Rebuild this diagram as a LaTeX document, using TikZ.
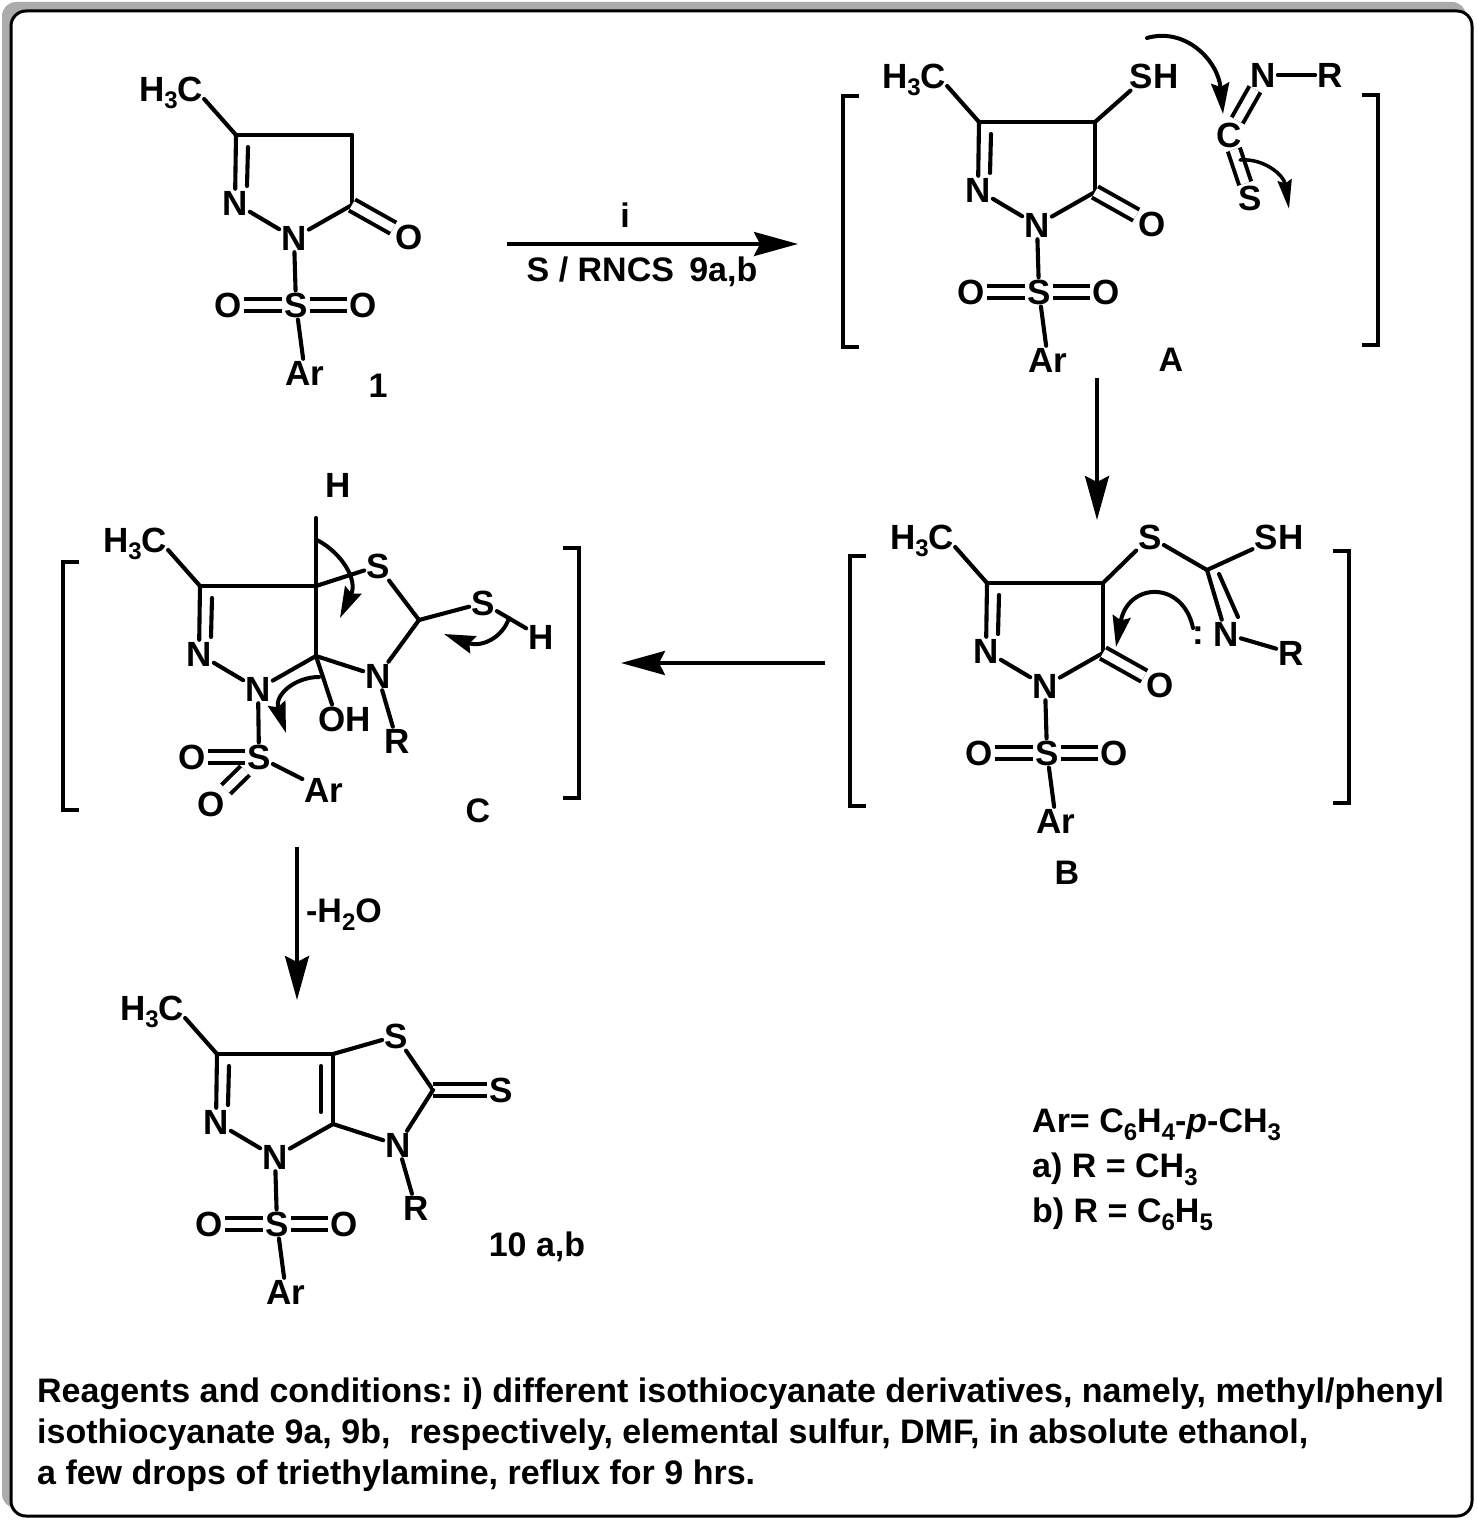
\documentclass[tikz,border=0pt]{standalone}
\usepackage{fontspec}
\setmainfont{Liberation Sans}
\usetikzlibrary{arrows.meta}
\newcommand\lowered[1]{\raisebox{-0.22em}[0pt][0pt]{\fontsize{24}{24}\selectfont #1}}
\tikzset{
  atom/.style={font=\fontsize{35}{35}\selectfont\bfseries,inner sep=2pt},
  caption text/.style={font=\fontsize{34}{34}\selectfont\bfseries,inner sep=0pt},
  bond/.style={line width=4.1pt,line cap=round},
  dbond/.style={line width=4pt,double,double distance=8.6pt},
  brk/.style={line width=4.4pt},
  react/.style={line width=3.6pt,-{Stealth[length=44pt,width=24pt,inset=6pt]}},
  curly/.style={line width=4pt,line cap=round,-{Stealth[length=31pt,width=18pt,inset=4pt]}},
  curlys/.style={line width=3.5pt,line cap=round,-{Stealth[length=29pt,width=14pt,inset=3pt]}}
}
\newcommand\pzcore{%
  \node[atom] (h) at (-65,-46) {H\lowered{3}C};
  \coordinate (c3) at (0,0);
  \coordinate (c4) at (116,0);
  \coordinate (c5) at (116,70);
  \node[atom] (n2) at (-1,68) {N};
  \node[atom] (n1) at (58,103) {N};
  \draw[bond] (c3) -- ([shift={(-1,10)}]h.east);
  \draw[bond] (c3) -- (n2);
  \draw[bond] ([shift={(12,12)}]c3) -- ([shift={(12,-17)}]n2.center);
  \draw[bond] (n2) -- (n1);
  \draw[bond] (n1) -- (c5);
  \draw[bond] (c3) -- (c4);
  \draw[bond] (c4) -- (c5);
}
\newcommand\pzoxo{%
  \node[atom] (o) at (173,102) {O};
  \draw[dbond] (c5) -- (o);
}
\newcommand\pzsulf{%
  \node[atom] (s) at (60,170) {S};
  \node[atom] (ol) at (-8,170) {O};
  \node[atom] (or) at (127,170) {O};
  \node[atom] (ar) at (69,238) {Ar};
  \draw[bond] (n1) -- (s);
  \draw[dbond] (s) -- (ol);
  \draw[dbond] (s) -- (or);
  \draw[bond] (s) -- (ar);
}
\begin{document}
\frenchspacing
\begin{tikzpicture}[x=1pt,y=-1pt]
\useasboundingbox (0,0) rectangle (1477,1520);
\fill[white] (0,0) rectangle (1477,1520);
\fill[black!33,rounded corners=14pt] (2,2) rectangle (1466,1508);
\draw[fill=white,line width=3pt,rounded corners=15pt] (11,11) rectangle (1472,1516);

% --- compound 1
\begin{scope}[shift={(236,135)},name prefix=p-]
  \pzcore\pzoxo\pzsulf
\end{scope}
\node[caption text] (lab1) at (378,386) {1};

% --- reaction arrow i
\coordinate (r1a) at (507,244);
\coordinate (r1b) at (798,244);
\draw[react] (r1a) -- (r1b);
\node[caption text] (ri) at (625,215) {i};
\node[caption text] (rs) at (642,272) {S / RNCS\hspace{0.45em}9a,b};

% --- intermediate A
\begin{scope}[shift={(979,122)},name prefix=a-]
  \pzcore\pzoxo\pzsulf
  \node[atom] (sh) at (175,-46) {SH};
  \draw[bond] (c4) -- ([shift={(3,0)}]sh.south west);
\end{scope}
\node[atom] (an) at (1263,75) {N};
\node[atom] (ar2) at (1330,75) {R};
\node[atom] (ac) at (1229,135) {C};
\node[atom] (as) at (1250,198) {S};
\draw[bond] (an) -- (ar2);
\draw[dbond] (an) -- (ac);
\draw[dbond] (ac) -- (as);
\node[caption text] (labA) at (1171,360) {A};
\coordinate (ca1) at (1147,38);
\coordinate (ca2) at (1223,114);
\draw[curly] (ca1) .. controls (1185,27) and (1218,60) .. (ca2);
\coordinate (ca3) at (1240,160);
\coordinate (ca4) at (1289,209);
\draw[curlys] (ca3) .. controls (1265,158) and (1284,176) .. (ca4);
\draw[brk] (859,96) -- (843,96) -- (843,347) -- (859,347);
\draw[brk] (1362,95) -- (1378,95) -- (1378,345) -- (1362,345);

% --- A to B
\coordinate (r2a) at (1097,378);
\coordinate (r2b) at (1097,520);
\draw[react] (r2a) -- (r2b);

% --- intermediate B
\begin{scope}[shift={(987,583)},name prefix=b-]
  \pzcore\pzoxo\pzsulf
\end{scope}
\node[atom] (bs) at (1150,537) {S};
\coordinate (bc) at (1207,570);
\node[atom] (bsh) at (1279,537) {SH};
\node[atom] (bn) at (1226,634) {N};
\node[atom] (br) at (1291,653) {R};
\draw[bond] (b-c4) -- (bs);
\draw[bond] (bs) -- (bc);
\draw[bond] (bc) -- (bsh);
\draw[bond] (bc) -- (bn);
\draw[bond] ([shift={(12,4)}]bc) -- ([shift={(12,-17)}]bn.center);
\draw[bond] (bn) -- (br);
\node[atom] (bcolon) at (1198,636) {:};
\coordinate (cb1) at (1193,628);
\coordinate (cb2) at (1116,647);
\draw[curly] (cb1) .. controls (1183,580) and (1128,582) .. (cb2);
\node[caption text] (labB) at (1067,873) {B};
\draw[brk] (866,556) -- (850,556) -- (850,806) -- (866,806);
\draw[brk] (1333,551) -- (1349,551) -- (1349,803) -- (1333,803);

% --- B to C
\coordinate (r3a) at (825,663);
\coordinate (r3b) at (621,663);
\draw[react] (r3a) -- (r3b);

% --- intermediate C
\begin{scope}[shift={(200,586)},name prefix=c-]
  \pzcore
  \node[atom] (s) at (59,171) {S};
  \node[atom] (ol) at (-8,171) {O};
  \node[atom] (od) at (11,218) {O};
  \node[atom] (ar) at (124,204) {Ar};
  \draw[bond] (n1) -- (s);
  \draw[dbond] (s) -- (ol);
  \draw[dbond] (s) -- (od);
  \draw[bond] (s) -- (ar);
\end{scope}
\coordinate (ctop) at (316,518);
\node[atom] (ch) at (338,485) {H};
\node[atom] (cs) at (378,566) {S};
\coordinate (cc) at (419,620);
\node[atom] (cs2) at (483,603) {S};
\node[atom] (ch2) at (541,637) {H};
\node[atom] (cn) at (378,676) {N};
\node[atom] (cr) at (397,741) {R};
\node[atom] (coh) at (345,719) {OH};
\draw[bond] (c-c4) -- (ctop);
\draw[bond] (c-c4) -- (cs);
\draw[bond] (cs) -- (cc);
\draw[bond] (cc) -- (cs2);
\draw[bond] (cs2) -- (ch2);
\draw[bond] (cc) -- (cn);
\draw[bond] (c-c5) -- (cn);
\draw[bond] (cn) -- (cr);
\draw[bond] (c-c5) -- ([xshift=-13pt]coh.north);
\coordinate (cc1) at (317,540);
\coordinate (cc2) at (340,618);
\draw[curly] (cc1) .. controls (342,553) and (358,580) .. (cc2);
\coordinate (cc3) at (509,618);
\coordinate (cc4) at (444,634);
\draw[curly] (cc3) .. controls (503,637) and (482,648) .. (cc4);
\coordinate (cc5) at (319,677);
\coordinate (cc6) at (286,733);
\draw[curly] (cc5) .. controls (295,677) and (274,695) .. (cc6);
\node[caption text] (labC) at (478,811) {C};
\draw[brk] (79,562) -- (63,562) -- (63,810) -- (79,810);
\draw[brk] (563,548) -- (579,548) -- (579,798) -- (563,798);

% --- C to 10
\coordinate (r4a) at (297,847);
\coordinate (r4b) at (297,1000);
\draw[react] (r4a) -- (r4b);
\node[caption text] (rw) at (344,911) {-H\lowered{2}O};

% --- product 10
\begin{scope}[shift={(217,1054)},name prefix=d-]
  \pzcore\pzsulf
\end{scope}
\node[atom] (ds) at (396,1036) {S};
\coordinate (dc) at (433,1090);
\node[atom] (ds2) at (501,1090) {S};
\node[atom] (dn) at (398,1145) {N};
\node[atom] (dr) at (416,1208) {R};
\draw[bond] (d-c4) -- (ds);
\draw[bond] (ds) -- (dc);
\draw[dbond] (dc) -- (ds2);
\draw[bond] (dc) -- (dn);
\draw[bond] (d-c5) -- (dn);
\draw[bond] (dn) -- (dr);
\draw[bond] ([shift={(-12,12)}]d-c4) -- ([shift={(-12,-12)}]d-c5);
\node[caption text] (lab10) at (537,1247) {10 a,b};

% --- legend and footnote
\node[caption text,anchor=north west,align=left,font=\fontsize{34}{45}\selectfont\bfseries] (legend) at (1032,1109)
  {Ar= C\lowered{6}H\lowered{4}-\textit{p}-CH\lowered{3}\\a) R = CH\lowered{3}\\b) R = C\lowered{6}H\lowered{5}};
\node[caption text,anchor=north west,align=left,font=\fontsize{34}{40.6}\selectfont\bfseries] (notes) at (37,1378)
  {Reagents and conditions: i) different isothiocyanate derivatives, namely, methyl/phenyl\\
   isothiocyanate 9a, 9b,\hspace{0.28em} respectively, elemental sulfur, DMF, in absolute ethanol,\\
   a few drops of triethylamine, reflux for 9 hrs.};
\end{tikzpicture}
\end{document}
